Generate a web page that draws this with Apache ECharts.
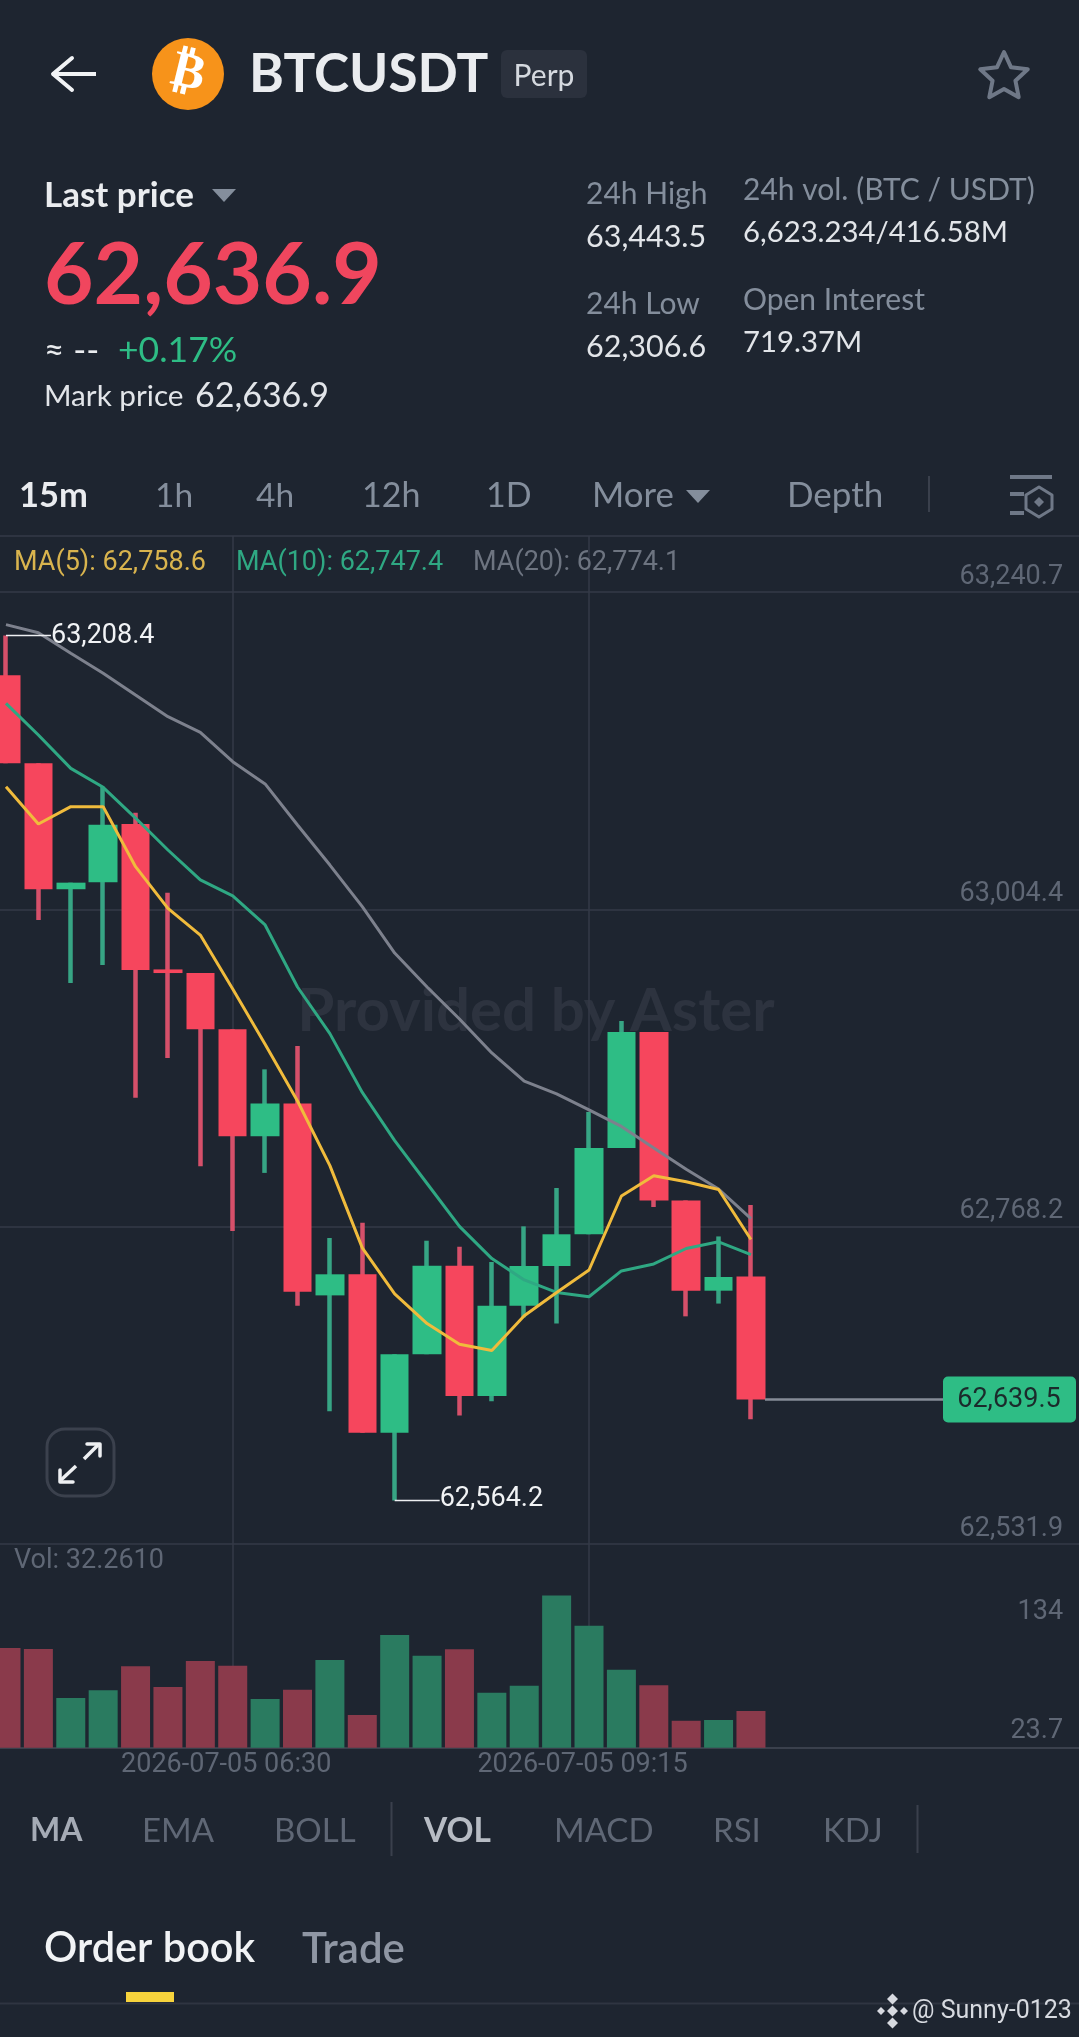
<!DOCTYPE html>
<html><head><meta charset="utf-8">
<style>html,body{margin:0;padding:0;background:#1e2530}#c{width:1079px;height:2037px}</style>
<script src="https://cdn.jsdelivr.net/npm/echarts@6/dist/echarts.min.js"></script>
</head><body><div id="c"></div>
<script>
const categories = ["2026-07-05 04:45","2026-07-05 05:00","2026-07-05 05:15","2026-07-05 05:30","2026-07-05 05:45","2026-07-05 06:00","2026-07-05 06:15","2026-07-05 06:30","2026-07-05 06:45","2026-07-05 07:00","2026-07-05 07:15","2026-07-05 07:30","2026-07-05 07:45","2026-07-05 08:00","2026-07-05 08:15","2026-07-05 08:30","2026-07-05 08:45","2026-07-05 09:00","2026-07-05 09:15","2026-07-05 09:30","2026-07-05 09:45","2026-07-05 10:00","2026-07-05 10:15","2026-07-05 10:30","2026-07-05 10:45","2026-07-05 11:00","2026-07-05 11:15","2026-07-05 11:30","2026-07-05 11:45","2026-07-05 12:00","2026-07-05 12:15","2026-07-05 12:30","2026-07-05 12:45","2026-07-05 13:00"];
const shownTimes = ["2026-07-05 06:30","2026-07-05 09:15"];
const opens  = [63178.7,63113.2,63019.4,63024.6,63068,62959.7,62957,62915.1,62835.4,62859.8,62717,62732.7,62614.7,62673.2,62739.1,62642.1,62709.3,62738.9,62762.5,62826.8,62913.1,62787.7,62720.5,62731.1];
const closes = [63113.2,63019.4,63024.3,63067.5,62959.3,62957,62915.1,62835.4,62859.8,62719.7,62732.7,62614.7,62673.2,62739.1,62642.1,62709.3,62738.9,62762.5,62826.8,62913.1,62787.7,62720.5,62730.7,62639.5];
const lows   = [63113.2,62996.5,62949.6,62963,62864.1,62893.8,62813.1,62765,62808.2,62709.3,62630.7,62614.7,62564.2,62673.2,62627.5,62638.1,62700.6,62696,62762.5,62826.8,62782.8,62701.4,62710.9,62624.8];
const highs  = [63208.4,63113.2,63024.3,63095.7,63076.4,63016.8,62957,62915.1,62885.3,62902.7,62759.8,62771,62673.2,62757.7,62753.2,62741.9,62768.4,62797,62853.6,62921.3,62913.1,62787.7,62760.9,62784.3];
const ma5  = [63095.7,63068,63080.9,63080.9,63036.2,63005.2,62985.3,62945.1,62904,62861.7,62813.6,62752.4,62718.1,62696,62680.6,62675.9,62701.9,62719.2,62735.9,62791,62806.1,62801.6,62795.8,62758.6];
const ma10 = [63157.8,63134.2,63109.4,63095.3,63072.4,63048.6,63026.3,63014.4,62992.8,62946.6,62911.9,62868.1,62832.2,62800.3,62768.4,62744.4,62728.5,62719.2,62716,62735.2,62740.4,62751.9,62756.9,62747.4];
const ma20 = [63216.4,63210.4,63195.1,63180.2,63164,63147.9,63136.2,63114.4,63097.8,63067.2,63037.4,63006.4,62971.9,62946.6,62922.8,62897.5,62876.6,62867,62855.1,62842.8,62826.8,62810.9,62796.2,62774.1];
const volumes = [87.7,86.9,43.7,50.5,71.6,53.4,76.3,72.2,42.9,51,77.2,28.8,99.2,81,86.6,48.4,54.6,134,107.4,68.6,54.9,23.7,24.4,32.261];
const priceTicks = [62531.9,62768.2,63004.4,63240.7];
const volTicks = [23.7,134];
const lastPrice = 62639.5, maxPoint = [0,63208.4], minPoint = [12,62564.2];

const BG='#1e2530', RED='#f6465d', GREEN='#2ebd85', REDW='#d6506a', GREENW='#37a584', VRED='#8a3a4b', VGREEN='#2a7b60', LINE='#343a47', AXT='#5f6775', MUTE='#848e9c';
const HF='Lato', CF='Roboto';
const chart = echarts.init(document.getElementById('c'), null, {renderer:'canvas', width:1079, height:2037});
const isShown = (i)=>shownTimes.includes(categories[i]);
const wicks = opens.map((o,i)=>[o,closes[i],lows[i],highs[i]]);
const bodies = opens.map((o,i)=>[o,closes[i],Math.min(o,closes[i]),Math.max(o,closes[i])]);

function T(x,y,text,size,fill,weight,family,align){
  return {type:'text',z:50,silent:true,style:{x,y:y+2,text,fill,textAlign:align||'left',textVerticalAlign:'middle',font:(weight||400)+' '+size+'px "'+(family||HF)+'"'}};
}
function L(x1,y1,x2,y2,stroke,w,z){return {type:'line',z:z||50,silent:true,shape:{x1,y1,x2,y2},style:{stroke,lineWidth:w,lineCap:'butt'}};}
function P(points,fill,stroke,w){return {type:'polygon',z:50,silent:true,shape:{points},style:{fill:fill||'none',stroke:stroke||'none',lineWidth:w||0,lineJoin:'round'}};}
function PL(points,stroke,w){return {type:'polyline',z:50,silent:true,shape:{points},style:{fill:'none',stroke,lineWidth:w,lineCap:'round',lineJoin:'round'}};}
function star(cx,cy,R,r){const p=[];for(let i=0;i<10;i++){const a=-Math.PI/2+i*Math.PI/5,q=i%2?r:R;p.push([cx+q*Math.cos(a),cy+q*Math.sin(a)]);}return p;}
function dia(cx,cy,r){return [[cx,cy-r],[cx+r,cy],[cx,cy+r],[cx-r,cy]];}

const chrome = [
  {type:'text',z:0,silent:true,style:{x:536,y:1012,text:'Provided by Aster',fill:'#2d333f',textAlign:'center',textVerticalAlign:'middle',font:'700 60px "Lato"'}},
  PL([[72,58],[53,74],[72,90]],'#f1f3f5',4), L(53,74,96,74,'#f1f3f5',4),
  {type:'circle',z:50,silent:true,shape:{cx:188,cy:74,r:36},style:{fill:'#f7931a'}},
  {type:'text',z:51,silent:true,rotation:-0.24,x:188,y:74,style:{x:0,y:0,text:'₿',fill:'#fff',textAlign:'center',textVerticalAlign:'middle',font:'700 50px "DejaVu Sans"'}},
  T(249,73,'BTCUSDT',53,'#eaecef',700),
  {type:'rect',z:50,silent:true,shape:{x:501,y:50,width:86,height:48,r:6},style:{fill:'#2b313d'}},
  T(544,74,'Perp',30,'#d5d9df',400,HF,'center'),
  P(star(1004,77,25,12),null,'#6f7887',4),
  T(44,194,'Last price',35,'#eaecef',700),
  P([[212,189],[236,189],[224,202]],MUTE),
  T(44,274,'62,636.9',85.5,'#f0465e',700),
  T(44,349,'≈ --',35,'#eaecef',400),
  T(118,349,'+0.17%',35.5,GREEN,400),
  T(44,394,'Mark price',29.7,'#e2e5e9',400),
  T(195,394,'62,636.9',34,'#e2e5e9',400),
  T(586,192,'24h High',30,MUTE,400),
  T(586,235,'63,443.5',30.5,'#e2e5e9',400),
  T(586,302,'24h Low',30,MUTE,400),
  T(586,345,'62,306.6',30.5,'#e2e5e9',400),
  T(743,188,'24h vol. (BTC / USDT)',30,MUTE,400),
  T(743,231,'6,623.234/416.58M',29.3,'#e2e5e9',400),
  T(743,298,'Open Interest',30,MUTE,400),
  T(743,341,'719.37M',29.3,'#e2e5e9',400),
  T(19,494,'15m',34.5,'#eaecef',700),
  T(155,494,'1h',33.5,MUTE),T(256,494,'4h',33.5,MUTE),T(362,494,'12h',34,MUTE),T(486,494,'1D',34,MUTE),T(592,494,'More',34.8,MUTE),
  P([[686,490],[710,490],[698,503]],MUTE),
  T(787,494,'Depth',35,MUTE),
  L(929,476,929,512,'#3a404c',2),
  L(1010,477,1052,477,'#6f7887',4),L(1010,494,1024,494,'#6f7887',4),L(1010,513,1024,513,'#6f7887',4),
  P([[1039,487],[1052,495],[1052,509],[1039,517],[1026,509],[1026,495]],null,'#6f7887',3),
  P(dia(1039,502,5),'#6f7887'),
  T(14,561,'MA(5): 62,758.6',27,'#d9b44e',400,CF),
  T(236,561,'MA(10): 62,747.4',27,'#2fa883',400,CF),
  T(473,561,'MA(20): 62,774.1',27,'#6d7480',400,CF),
  T(14,1559,'Vol: 32.2610',27,AXT,400,CF),
  {type:'rect',z:50,silent:true,shape:{x:47,y:1429,width:67,height:67,r:18},style:{fill:'none',stroke:'#3b414d',lineWidth:3}},
  L(61,1480,76,1466,'#eef0f2',3.5),L(84,1459,98,1445,'#eef0f2',3.5),
  PL([[60,1470],[60,1482],[73,1482]],'#eef0f2',3.5),PL([[87,1444],[100,1444],[100,1456]],'#eef0f2',3.5),
  T(30,1829,'MA',32,'#a5abb5',700),T(142,1829,'EMA',33,'#5f6775'),T(274,1829,'BOLL',33,'#5f6775'),
  L(391.5,1802,391.5,1856,'#3a404c',2),
  T(424,1829,'VOL',33.5,'#b7bcc4',700),T(554,1829,'MACD',33,'#5f6775'),T(713,1829,'RSI',33,'#5f6775'),T(823,1829,'KDJ',33,'#5f6775'),
  L(917.5,1805,917.5,1853,'#3a404c',2),
  T(44,1947,'Order book',41.5,'#f1f3f5',600),T(302,1947,'Trade',42,'#8f96a3',600),
  {type:'rect',z:50,silent:true,shape:{x:126,y:1992,width:48,height:10},style:{fill:'#f7d33c'}},
  L(0,2003.5,1079,2003.5,'#2f3541',2,1),
  P(dia(892.5,1999,5.5),'#d7dae0'),P(dia(892.5,2023,5.5),'#d7dae0'),P(dia(881,2011,4),'#d7dae0'),P(dia(904,2011,4),'#d7dae0'),P(dia(892.5,2011,5.5),'#d7dae0'),
  T(912,2010,'@ Sunny-0123',25,'#d7dae0',400,CF)
];

const option = {
  animation:false, backgroundColor:BG,
  grid:[{left:-10.2,top:536,width:1101.26,height:1008,outerBoundsMode:'none'},{left:-10.2,top:1544,width:1101.26,height:203.7,outerBoundsMode:'none'}],
  xAxis:[
    {type:'category',gridIndex:0,data:categories,boundaryGap:true,axisLine:{show:false},axisTick:{show:false},axisLabel:{show:false},
     splitLine:{show:true,alignWithLabel:true,interval:(i)=>isShown(i),lineStyle:{color:LINE,width:1.5}}},
    {type:'category',gridIndex:1,data:categories,boundaryGap:true,axisLine:{show:true,onZero:false,lineStyle:{color:'#3a404c',width:2}},axisTick:{show:false},
     axisLabel:{show:true,interval:(i)=>isShown(i),color:AXT,fontFamily:CF,fontSize:27,margin:4,padding:[0,13,0,0],hideOverlap:false},
     splitLine:{show:true,alignWithLabel:true,interval:(i)=>isShown(i),lineStyle:{color:LINE,width:1.5}}}
  ],
  yAxis:[
    {type:'value',gridIndex:0,position:'right',scale:true,min:62531.9,max:63282.4,axisLine:{show:false},
     axisTick:{show:false,customValues:priceTicks.concat([63282.4])},
     axisLabel:{show:true,inside:true,margin:28,customValues:priceTicks,color:AXT,fontFamily:CF,fontSize:27,verticalAlign:'bottom',lineHeight:30,formatter:(v)=>v.toLocaleString('en-US',{minimumFractionDigits:1,maximumFractionDigits:1})},
     splitLine:{show:true,lineStyle:{color:LINE,width:1.5}}},
    {type:'value',gridIndex:1,position:'right',min:0,max:179.26,axisLine:{show:false},axisTick:{show:false,customValues:volTicks},
     axisLabel:{show:true,inside:true,margin:28,customValues:volTicks,color:AXT,fontFamily:CF,fontSize:27,
       formatter:(v)=>v===134?'{a|134}':'{b|'+v+'}',
       rich:{a:{padding:[34,0,0,0],color:AXT,fontFamily:CF,fontSize:27},b:{padding:[20,0,0,0],color:AXT,fontFamily:CF,fontSize:27}}},
     splitLine:{show:false}}
  ],
  series:[
    {name:'Wick',type:'candlestick',xAxisIndex:0,yAxisIndex:0,data:wicks,barWidth:1,z:2,
     itemStyle:{color:GREENW,color0:REDW,borderColor:GREENW,borderColor0:REDW,borderWidth:4.5}},
    {name:'Body',type:'candlestick',xAxisIndex:0,yAxisIndex:0,data:bodies,barWidth:29,z:3,
     itemStyle:{color:GREEN,color0:RED,borderColor:GREEN,borderColor0:RED,borderWidth:0}},
    {name:'MA5',type:'line',xAxisIndex:0,yAxisIndex:0,data:ma5,symbol:'none',z:6,lineStyle:{color:'#f0bb3c',width:3}},
    {name:'MA10',type:'line',xAxisIndex:0,yAxisIndex:0,data:ma10,symbol:'none',z:5,lineStyle:{color:'#2fa883',width:3}},
    {name:'MA20',type:'line',xAxisIndex:0,yAxisIndex:0,data:ma20,symbol:'none',z:5,lineStyle:{color:'#7d818d',width:3}},
    {name:'Vol',type:'bar',xAxisIndex:1,yAxisIndex:1,data:volumes,barWidth:29,z:2,
     itemStyle:{color:(p)=>closes[p.dataIndex]>=opens[p.dataIndex]?VGREEN:VRED}}
  ],
  graphic:{elements:chrome}
};
chart.setOption(option);

const px=(i,v)=>chart.convertToPixel({xAxisIndex:0,yAxisIndex:0},[i,v]);
const hi=px(maxPoint[0],maxPoint[1]), lo=px(minPoint[0],minPoint[1]), last=px(23,lastPrice);
const fmt=(v)=>v.toLocaleString('en-US',{minimumFractionDigits:1});
chart.setOption({graphic:{elements:chrome.concat([
  L(hi[0],hi[1],hi[0]+45,hi[1],'#eef0f2',1.5,7),
  T(hi[0]+45,hi[1]-1,fmt(maxPoint[1]),27,'#f1f3f5',400,CF),
  L(lo[0],lo[1],lo[0]+45,lo[1],'#eef0f2',1.5,7),
  T(lo[0]+45,lo[1]-3,fmt(minPoint[1]),27,'#f1f3f5',400,CF),
  L(last[0]+14,last[1],943,last[1],'#868c97',2.5,7),
  {type:'rect',z:50,silent:true,shape:{x:943,y:last[1]-23,width:133,height:46,r:5},style:{fill:GREEN}},
  T(1009,last[1]-1,fmt(lastPrice),27,'#1b2a2b',400,CF,'center')
])}});
</script></body></html>
